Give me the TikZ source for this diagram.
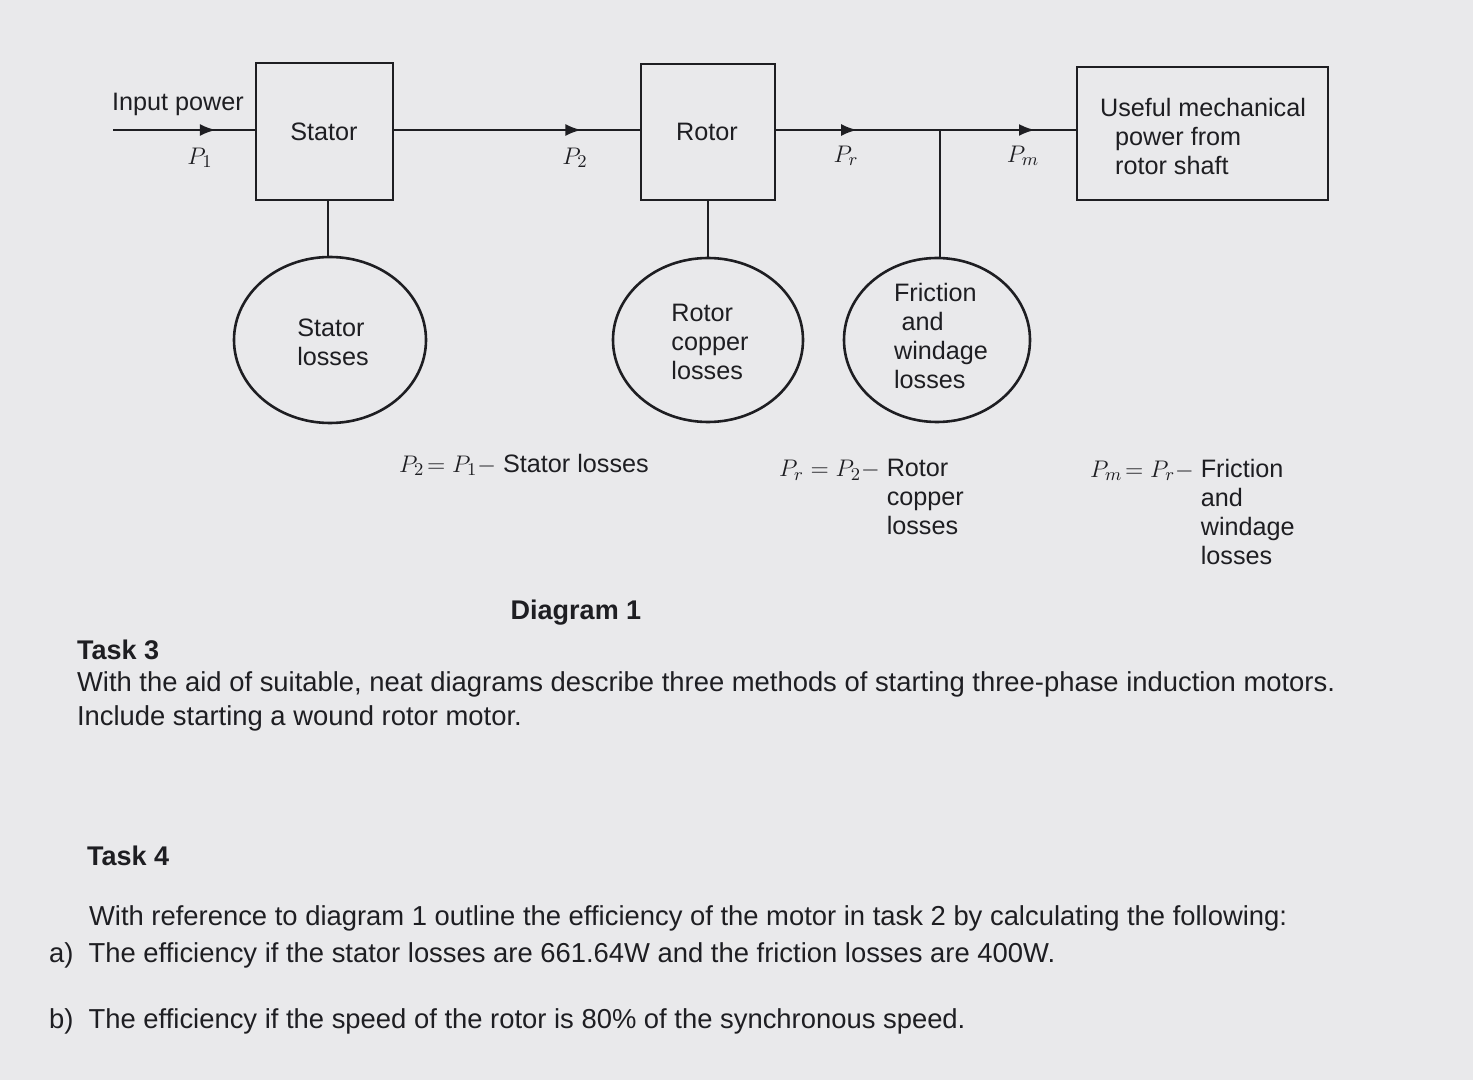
\documentclass[tikz,border=0pt]{standalone}
\usepackage{fontspec}
\setmainfont{Liberation Sans}
\usetikzlibrary{arrows.meta,decorations.markings}
\definecolor{bg}{HTML}{E9E9EB}
\definecolor{ink}{HTML}{1E1E22}
\begin{document}
\begin{tikzpicture}[x=0.5pt,y=-0.5pt,
  box/.style={draw=ink,line width=1.3pt,minimum width=0pt,inner sep=0pt},
  loss/.style={draw=ink,line width=1.3pt},
  wire/.style={draw=ink,line width=1.3pt},
  lbl/.style={text=ink,font=\fontsize{12.6}{14.5}\selectfont,align=left},
  body/.style={text=ink,font=\fontsize{13.7}{16}\selectfont,anchor=west},
  tip/.style={postaction={decorate},decoration={markings,mark=at position #1 with {\arrow{Latex[length=8pt,width=6pt]}}}}]
\fill[bg] (0,0) rectangle (1473,1080);
\useasboundingbox (0,0) rectangle (1473,1080);
% boxes
\draw[box] (256,63) rectangle (393,200);
\node[lbl] (stator) at (324,132) {Stator};
\draw[box] (641,64) rectangle (775,200);
\node[lbl] (rotor) at (707,132) {Rotor};
\draw[box] (1077,67) rectangle (1328,200);
\node[lbl,align=left] (useful) at (1203,136) {Useful mechanical\\\hspace{0.6em}power from\\\hspace{0.6em}rotor shaft};
% main line
\coordinate (in) at (113,130);
\coordinate (sL) at (256,130); \coordinate (sR) at (393,130);
\coordinate (rL) at (641,130); \coordinate (rR) at (775,130);
\coordinate (uL) at (1077,130);
\draw[wire,tip=0.72] (in) -- (sL);
\draw[wire,tip=0.76] (sR) -- (rL);
\draw[wire] (rR) -- (uL);
\draw[wire,tip=0.99] (rR) -- (858,130);
\draw[wire,tip=0.99] (940,130) -- (1036,130);
% ellipses
\draw[loss] (330,340) ellipse [x radius=96,y radius=83];
\node[lbl] (sl) at (333,342) {Stator\\losses};
\draw[loss] (708,340) ellipse [x radius=95,y radius=82];
\node[lbl] (rl) at (710,342) {Rotor\\copper\\losses};
\draw[loss] (937,340) ellipse [x radius=93,y radius=82];
\node[lbl] (fl) at (941,336) {Friction\\\hspace{0.3em}and\\windage\\losses};
\draw[wire] (328,200) -- (328,258);
\draw[wire] (708,200) -- (708,258);
\draw[wire] (940,130) -- (940,258);
% labels
\node[lbl] (ip) at (178,104) {Input power};
\node[lbl] (p1) at (200,158) {$P_1$};
\node[lbl] (p2) at (575,158) {$P_2$};
\node[lbl] (pr) at (846,156) {$P_r$};
\node[lbl] (pm) at (1023,156) {$P_m$};
% equations
\node[lbl,anchor=west] (e1) at (392,465) {$P_2\!=P_1-$ Stator losses};
\node[lbl,anchor=north west] (e2) at (772,452) {$P_r=P_2-$ Rotor\\\phantom{$P_r=P_2-$ }copper\\\phantom{$P_r=P_2-$ }losses};
\node[lbl,anchor=north west] (e3) at (1083,452) {$P_m\!=P_r-$ Friction\\\phantom{$P_m\!=P_r-$ }and\\\phantom{$P_m\!=P_r-$ }windage\\\phantom{$P_m\!=P_r-$ }losses};
\node[lbl,font=\fontsize{13.5}{15}\selectfont\bfseries] (d1) at (576,613) {Diagram 1};
% tasks
\node[body,font=\fontsize{13.5}{16}\selectfont\bfseries] (t3) at (70,650) {Task 3};
\node[body] (t3a) at (70,684) {With the aid of suitable, neat diagrams describe three methods of starting three-phase induction motors.};
\node[body] (t3b) at (70,718) {Include starting a wound rotor motor.};
\node[body,font=\fontsize{13.5}{16}\selectfont\bfseries] (t4) at (80,856) {Task 4};
\node[body] (t4a) at (82,918) {With reference to diagram 1 outline the efficiency of the motor in task 2 by calculating the following:};
\node[body] (t4b) at (42,955) {a)\ \ The efficiency if the stator losses are 661.64W and the friction losses are 400W.};
\node[body] (t4c) at (42,1021) {b)\ \ The efficiency if the speed of the rotor is 80\% of the synchronous speed.};
\end{tikzpicture}
\end{document}
